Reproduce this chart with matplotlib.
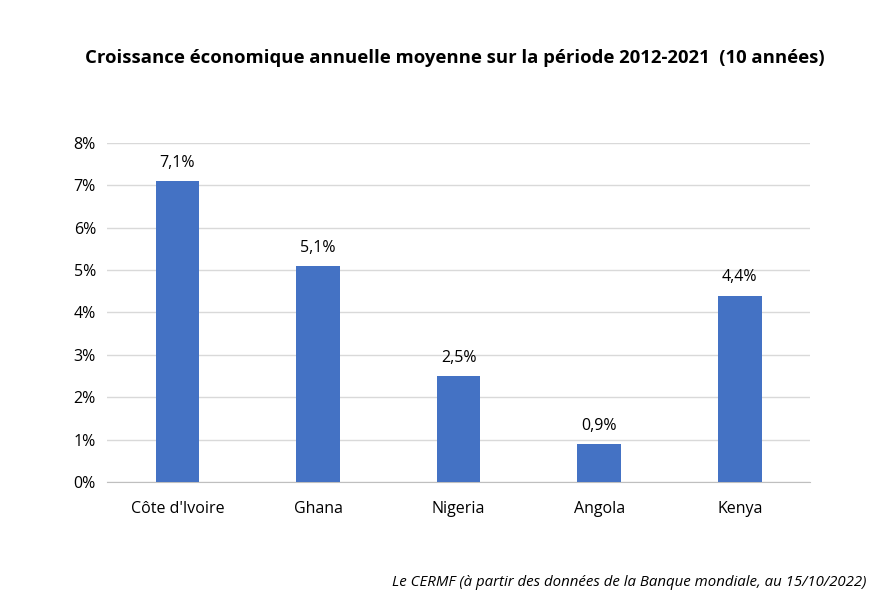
import numpy as np
import matplotlib.pyplot as plt

plt.rcParams['font.family'] = ['Open Sans', 'DejaVu Sans']

pays = ["Côte d'Ivoire", "Ghana", "Nigeria", "Angola", "Kenya"]
croissance = [7.1, 5.1, 2.5, 0.9, 4.4]
yticks = [0, 1, 2, 3, 4, 5, 6, 7, 8]

fig = plt.figure(figsize=(8.86, 5.96), dpi=100)
ax = fig.add_axes([0.1208, 0.1913, 0.7935, 0.5688])

x = np.arange(len(pays))
ax.bar(x, croissance, width=0.31, color='#4472C4', zorder=3)
for xi, v in zip(x, croissance):
    ax.text(xi, v + 0.24, ('%.1f%%' % v).replace('.', ','), ha='center', va='bottom',
            fontsize=11.5, color='#000000')

ax.set_xlim(-0.5, len(pays) - 0.5)
ax.set_ylim(0, 8)
ax.set_yticks(yticks)
ax.set_yticklabels(['%d%%' % t for t in yticks], fontsize=11.5)
ax.set_xticks(x)
ax.set_xticklabels(pays, fontsize=11.5)
ax.tick_params(axis='y', length=0, pad=8)
ax.tick_params(axis='x', length=0, pad=14)
ax.yaxis.grid(True, color='#D9D9D9', linewidth=1, zorder=0)
for s in ['left', 'right', 'top']:
    ax.spines[s].set_visible(False)
ax.spines['bottom'].set_color('#BFBFBF')

fig.text(0.513, 0.903, "Croissance économique annuelle moyenne sur la période 2012-2021  (10 années)",
         ha='center', va='center', fontsize=13.3, fontweight='bold')
fig.text(0.978, 0.023, "Le CERMF (à partir des données de la Banque mondiale, au 15/10/2022)",
         ha='right', va='center', fontsize=10.8, style='italic')

fig.savefig('out.png', dpi=100)
